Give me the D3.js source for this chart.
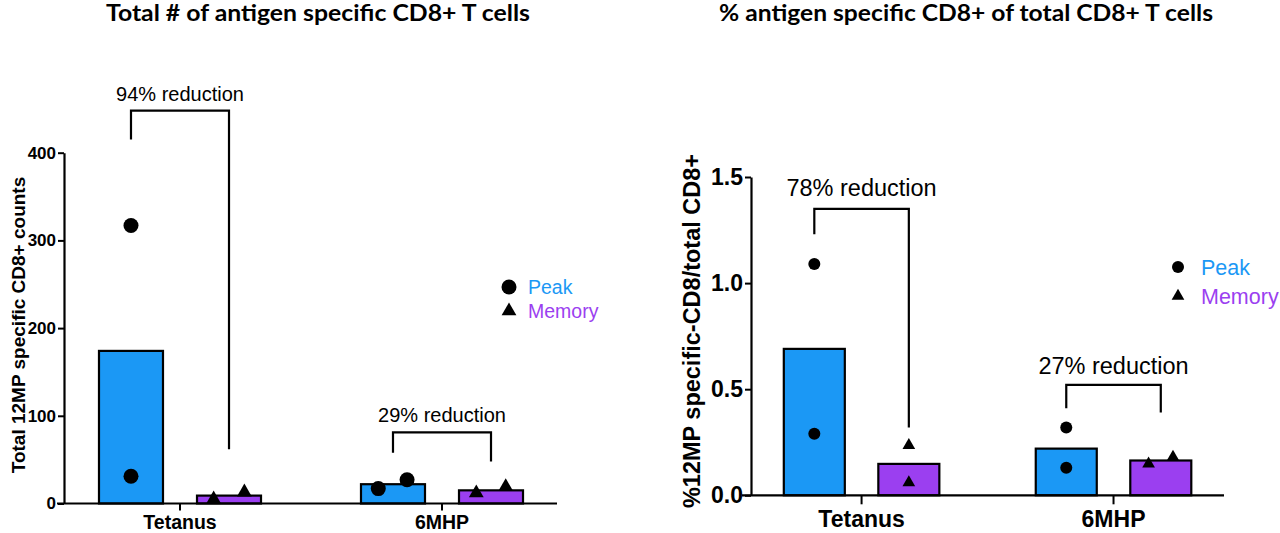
<!DOCTYPE html>
<html><head><meta charset="utf-8">
<script src="https://cdn.jsdelivr.net/npm/d3@7"></script>
<style>body{margin:0;background:#fff}svg{display:block}
.ar{font-family:"Liberation Sans",Arial,Helvetica,sans-serif}
.ti{font-family:Lato,"Open Sans",sans-serif;font-weight:bold}
</style>
</head><body>
<svg id="c" width="1280" height="533"></svg>
<script>
// ---------- DATA ----------
const categories = ["Tetanus", "6MHP"];
const seriesNames = ["Peak", "Memory"];

// Left panel: total counts
const countPeakBars = [174, 22];
const countMemoryBars = [9, 15];
const countPeakPoints = [[317, 31], [17, 27]];
const countMemoryPoints = [[5, 13], [12, 19]];
const countTicks = [0, 100, 200, 300, 400];

// Right panel: percent of total CD8+
const pctPeakBars = [0.69, 0.22];
const pctMemoryBars = [0.148, 0.164];
const pctPeakPoints = [[1.09, 0.29], [0.32, 0.13]];
const pctMemoryPoints = [[0.06, 0.235], [0.148, 0.18]];
const pctTicks = [0, 0.5, 1.0, 1.5];

const reductionLeft = ["94% reduction", "29% reduction"];
const reductionRight = ["78% reduction", "27% reduction"];

// ---------- STYLE / LAYOUT ----------
const colors = {Peak: "#1b98f5", Memory: "#9b3ff0"};
const svg = d3.select("#c");

function panel(cfg) {
  const g = svg.append("g");
  const x0 = d3.scaleBand().domain(categories).range(cfg.xRange).paddingInner(0).paddingOuter(0);
  const x1 = d3.scaleBand().domain(seriesNames).range([0, x0.bandwidth()]).paddingInner(cfg.pi).paddingOuter(cfg.po);
  const y = d3.scaleLinear().domain(cfg.yDomain).range(cfg.yRange);
  const barVals = {Peak: cfg.peakBars, Memory: cfg.memBars};
  const ptVals = {Peak: cfg.peakPts, Memory: cfg.memPts};

  // bars
  categories.forEach((c, ci) => {
    seriesNames.forEach(s => {
      const v = barVals[s][ci];
      g.append("rect")
        .attr("x", x0(c) + x1(s)).attr("width", x1.bandwidth())
        .attr("y", y(v)).attr("height", y(0) - y(v))
        .attr("fill", colors[s]).attr("stroke", "#000").attr("stroke-width", 2.2);
    });
  });

  // points
  categories.forEach((c, ci) => {
    seriesNames.forEach(s => {
      const cx = x0(c) + x1(s) + x1.bandwidth() / 2;
      ptVals[s][ci].forEach((v, pi) => {
        const off = cfg.jitter[ci][s === "Peak" ? 0 : 1][pi] * x1.bandwidth();
        if (s === "Peak") {
          g.append("circle").attr("cx", cx + off).attr("cy", y(v)).attr("r", cfg.r).attr("fill", "#000");
        } else {
          g.append("path").attr("transform", `translate(${cx + off},${y(v)})`)
            .attr("d", d3.symbol(d3.symbolTriangle, cfg.triSize)()).attr("fill", "#000");
        }
      });
    });
  });

  // y axis
  const ya = g.append("g").attr("transform", `translate(${cfg.axisX},0)`)
    .call(d3.axisLeft(y).tickValues(cfg.ticks).tickFormat(cfg.fmt).tickSize(6).tickSizeOuter(0));
  ya.attr("font-family", null).attr("font-size", null);
  ya.select(".domain").attr("stroke-width", 2.2);
  ya.selectAll(".tick line").attr("stroke-width", 2);
  ya.selectAll(".tick text").attr("class", "ar")
    .style("font-weight", "bold").style("font-size", cfg.tickFont + "px").attr("fill", "#000").attr("x", -8);

  // x axis
  const xa = g.append("g").attr("transform", `translate(0,${y(0)})`)
    .call(d3.axisBottom(x0).tickSize(cfg.xTick).tickSizeOuter(0));
  xa.attr("font-family", null).attr("font-size", null);
  xa.select(".domain").attr("d", `M${cfg.xLine[0]},0H${cfg.xLine[1]}`).attr("stroke-width", 2.2);
  xa.selectAll(".tick line").attr("stroke-width", 2);
  xa.selectAll(".tick text").attr("class", "ar")
    .style("font-weight", "bold").style("font-size", cfg.catFont + "px").attr("fill", "#000").attr("dy", 0).attr("y", cfg.catY);

  // y label
  g.append("text").attr("class", "ar").attr("transform", `translate(${cfg.yLabX},${cfg.yLabY}) rotate(-90)`)
    .attr("text-anchor", "middle")
    .style("font-weight", "bold").style("font-size", cfg.yLabFont + "px").text(cfg.yLabel);

  // title
  g.append("text").attr("class", "ti").attr("x", cfg.titleX).attr("y", 21).attr("text-anchor", "middle")
    .style("font-size", cfg.titleFont + "px")
    .attr("textLength", cfg.titleLen).attr("lengthAdjust", "spacingAndGlyphs").text(cfg.title);

  // brackets
  cfg.brackets.forEach((b, bi) => {
    const c = categories[bi];
    const xl = x0(c) + x1("Peak") + x1.bandwidth() / 2;
    const xr = x0(c) + x1("Memory") + x1.bandwidth() / 2;
    g.append("path").attr("fill", "none").attr("stroke", "#000").attr("stroke-width", 2.2)
      .attr("d", `M${xl},${y(b.l)}V${y(b.top)}H${xr}V${y(b.r)}`);
    g.append("text").attr("class", "ar").attr("x", (xl + xr) / 2).attr("y", y(b.top) - b.gap).attr("text-anchor", "middle")
      .style("font-size", cfg.annFont + "px").text(cfg.reductions[bi]);
  });

  // legend
  g.append("circle").attr("cx", cfg.leg[0]).attr("cy", cfg.leg[1]).attr("r", cfg.r).attr("fill", "#000");
  g.append("path").attr("transform", `translate(${cfg.leg[0]},${cfg.leg[1] + cfg.legGap})`)
    .attr("d", d3.symbol(d3.symbolTriangle, cfg.triSize)()).attr("fill", "#000");
  seriesNames.forEach((s, i) => {
    g.append("text").attr("class", "ar").attr("x", cfg.leg[0] + cfg.legTextDx).attr("y", cfg.leg[1] + i * cfg.legGap)
      .attr("dy", "0.36em")
      .style("font-size", cfg.legFont + "px").attr("fill", colors[s]).text(s);
  });
}

panel({
  xRange: [49, 573], xLine: [57, 557], pi: 0.347, po: 0.51,
  yDomain: [0, 400], yRange: [503.5, 152.7], axisX: 64, ticks: countTicks, fmt: d3.format("d"),
  peakBars: countPeakBars, memBars: countMemoryBars, peakPts: countPeakPoints, memPts: countMemoryPoints,
  jitter: [[[0, 0], [-0.24, 0.24]], [[-0.23, 0.22], [-0.23, 0.23]]],
  r: 7.5, triSize: 95, tickFont: 17, catFont: 19.5, catY: 25, xTick: 7,
  yLabel: "Total 12MP specific CD8+ counts", yLabX: 25, yLabY: 325, yLabFont: 19,
  title: "Total # of antigen specific CD8+ T cells", titleX: 318, titleFont: 22, titleLen: 424,
  brackets: [{l: 415, top: 448, r: 62, gap: 10}, {l: 58, top: 81, r: 48, gap: 10}],
  reductions: reductionLeft, annFont: 20,
  leg: [509, 287], legGap: 24, legTextDx: 19, legFont: 19.5
});

panel({
  xRange: [735.6, 1239.5], xLine: [742, 1224], pi: 0.3545, po: 0.51,
  yDomain: [0, 1.5], yRange: [495.3, 177], axisX: 751, ticks: pctTicks, fmt: d3.format(".1f"),
  peakBars: pctPeakBars, memBars: pctMemoryBars, peakPts: pctPeakPoints, memPts: pctMemoryPoints,
  jitter: [[[0, 0], [0, 0]], [[0, 0], [-0.2, 0.2]]],
  r: 6, triSize: 70, tickFont: 23, catFont: 23, catY: 32, xTick: 9,
  yLabel: "%12MP specific-CD8/total CD8+", yLabX: 700, yLabY: 331, yLabFont: 23.5,
  title: "% antigen specific CD8+ of total CD8+ T cells", titleX: 966, titleFont: 22, titleLen: 494,
  brackets: [{l: 1.23, top: 1.35, r: 0.32, gap: 13}, {l: 0.41, top: 0.52, r: 0.39, gap: 11}],
  reductions: reductionRight, annFont: 23.5,
  leg: [1178, 267], legGap: 29, legTextDx: 23, legFont: 21.5
});
</script>
</body></html>
